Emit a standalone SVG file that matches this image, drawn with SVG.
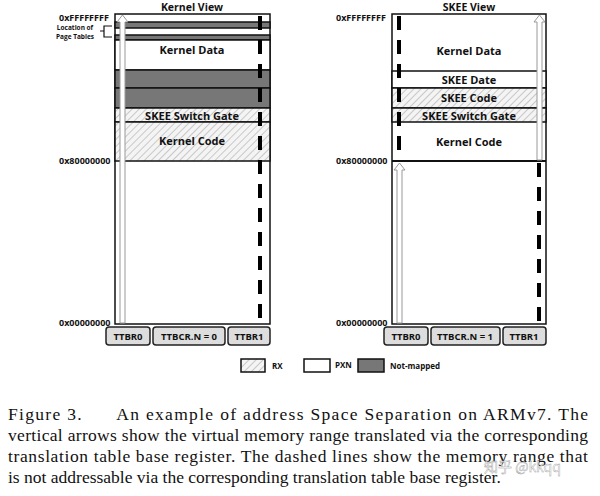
<svg xmlns="http://www.w3.org/2000/svg" width="600" height="496" viewBox="0 0 600 496">
<defs>
<pattern id="h" width="5" height="5" patternUnits="userSpaceOnUse" patternTransform="rotate(45)">
<rect width="5" height="5" fill="#f4f4f4"/><line x1="0" y1="0" x2="0" y2="5" stroke="#aaa" stroke-width="1.2"/>
</pattern>
</defs>
<style>
.b{font-family:"Open Sans","Liberation Sans",sans-serif;font-weight:bold;fill:#111}
.r{stroke:#111;stroke-width:1.5}
.w{fill:#fff}.d{fill:#777}.x{fill:url(#h)}
.dash{stroke:#000;stroke-width:4;stroke-dasharray:14 10}
.btn{fill:#ddd;stroke:#222;stroke-width:1.5}
.cap{font-family:"Liberation Serif",serif;font-size:17.5px;fill:#111}
</style>
<rect width="600" height="496" fill="#fff"/>
<g id="kernel-view">
<text class="b" x="192" y="11" font-size="10.5" text-anchor="middle">Kernel View</text>
<rect class="w r" x="115" y="14" width="155" height="310"/>
<rect class="d r" x="115" y="22" width="155" height="6"/>
<rect class="d r" x="115" y="35" width="155" height="5"/>
<rect class="w r" x="115" y="40" width="155" height="30"/>
<text class="b" x="192" y="54" font-size="11" text-anchor="middle">Kernel Data</text>
<rect class="d r" x="115" y="70" width="155" height="18"/>
<rect class="d r" x="115" y="88" width="155" height="20"/>
<rect class="x r" x="115" y="108" width="155" height="14"/>
<text class="b" x="192" y="119.5" font-size="11" text-anchor="middle">SKEE Switch Gate</text>
<rect class="x r" x="115" y="122" width="155" height="39"/>
<text class="b" x="192" y="145" font-size="11" text-anchor="middle">Kernel Code</text>
<text class="b" x="59" y="21" font-size="9">0xFFFFFFFF</text>
<text class="b" x="75" y="30" font-size="6.5" text-anchor="middle">Location of</text>
<text class="b" x="75" y="39" font-size="6.5" text-anchor="middle">Page Tables</text>
<path d="M112 26 H104 V31 H100 M104 31 V37 H112" fill="none" stroke="#111" stroke-width="1.2"/>
<text class="b" x="59" y="164" font-size="9">0x80000000</text>
<text class="b" x="59" y="326" font-size="9">0x00000000</text>
</g>
<g id="skee-view">
<text class="b" x="469" y="11" font-size="10.5" text-anchor="middle">SKEE View</text>
<rect class="w r" x="392" y="14" width="154" height="310"/>
<text class="b" x="469" y="55" font-size="11" text-anchor="middle">Kernel Data</text>
<rect class="w r" x="392" y="71" width="154" height="17"/>
<text class="b" x="469" y="84" font-size="11" text-anchor="middle">SKEE Date</text>
<rect class="x r" x="392" y="88" width="154" height="20"/>
<text class="b" x="469" y="102" font-size="11" text-anchor="middle">SKEE Code</text>
<rect class="x r" x="392" y="108" width="154" height="14"/>
<text class="b" x="469" y="119.5" font-size="11" text-anchor="middle">SKEE Switch Gate</text>
<text class="b" x="469" y="146" font-size="11" text-anchor="middle">Kernel Code</text>
<line x1="392" y1="161" x2="546" y2="161" stroke="#111" stroke-width="2"/>
<text class="b" x="336" y="21" font-size="9">0xFFFFFFFF</text>
<text class="b" x="336" y="164" font-size="9">0x80000000</text>
<text class="b" x="336" y="326" font-size="9">0x00000000</text>
</g>
<g id="connectors">
<line class="dash" x1="260" y1="16" x2="260" y2="322"/>
<line class="dash" x1="399" y1="16" x2="399" y2="159"/>
<line class="dash" x1="539" y1="163" x2="539" y2="322"/>
<g fill="#fff" stroke="#999" stroke-width="1">
<path d="M120 323 V22 H117 L122.5 15 L128 22 H125 V323 Z"/>
<path d="M537 160 V22 H534 L539.5 15 L545 22 H542 V160 Z"/>
<path d="M397 323 V170 H394 L399.5 163 L405 170 H402 V323 Z"/>
</g>
</g>
<g id="registers">
<rect class="btn" x="106" y="327" width="44" height="18" rx="3"/><text class="b" x="128" y="340" font-size="9.5" text-anchor="middle">TTBR0</text>
<rect class="btn" x="153" y="327" width="72" height="18" rx="3"/><text class="b" x="189" y="340" font-size="9.5" text-anchor="middle">TTBCR.N = 0</text>
<rect class="btn" x="228" y="327" width="42" height="18" rx="3"/><text class="b" x="249" y="340" font-size="9.5" text-anchor="middle">TTBR1</text>
<rect class="btn" x="384" y="327" width="44" height="18" rx="3"/><text class="b" x="406" y="340" font-size="9.5" text-anchor="middle">TTBR0</text>
<rect class="btn" x="431" y="327" width="69" height="18" rx="3"/><text class="b" x="465" y="340" font-size="9.5" text-anchor="middle">TTBCR.N = 1</text>
<rect class="btn" x="503" y="327" width="43" height="18" rx="3"/><text class="b" x="524" y="340" font-size="9.5" text-anchor="middle">TTBR1</text>
</g>
<g id="legend">
<rect class="x r" x="241" y="359" width="24" height="13"/><text class="b" x="272" y="369" font-size="8">RX</text>
<rect class="w r" x="304" y="359" width="26" height="13"/><text class="b" x="335" y="368" font-size="8">PXN</text>
<rect class="d r" x="358" y="359" width="26" height="13"/><text class="b" x="390" y="369" font-size="8">Not-mapped</text>
</g>
<g id="caption">
<text class="cap" x="8" y="420" xml:space="preserve" textLength="580" lengthAdjust="spacing">Figure 3.      An example of address Space Separation on ARMv7. The</text>
<text class="cap" x="8" y="441" textLength="580" lengthAdjust="spacing">vertical arrows show the virtual memory range translated via the corresponding</text>
<text class="cap" x="8" y="462" textLength="580" lengthAdjust="spacing">translation table base register. The dashed lines show the memory range that</text>
<text class="cap" x="8" y="483">is not addressable via the corresponding translation table base register.</text>
<text x="484" y="472" font-family="Noto Sans CJK SC,sans-serif" font-size="14" fill="#fff" fill-opacity="0.8" stroke="#999" stroke-width="0.4">知乎 @kkqq</text>
</g>
</svg>
